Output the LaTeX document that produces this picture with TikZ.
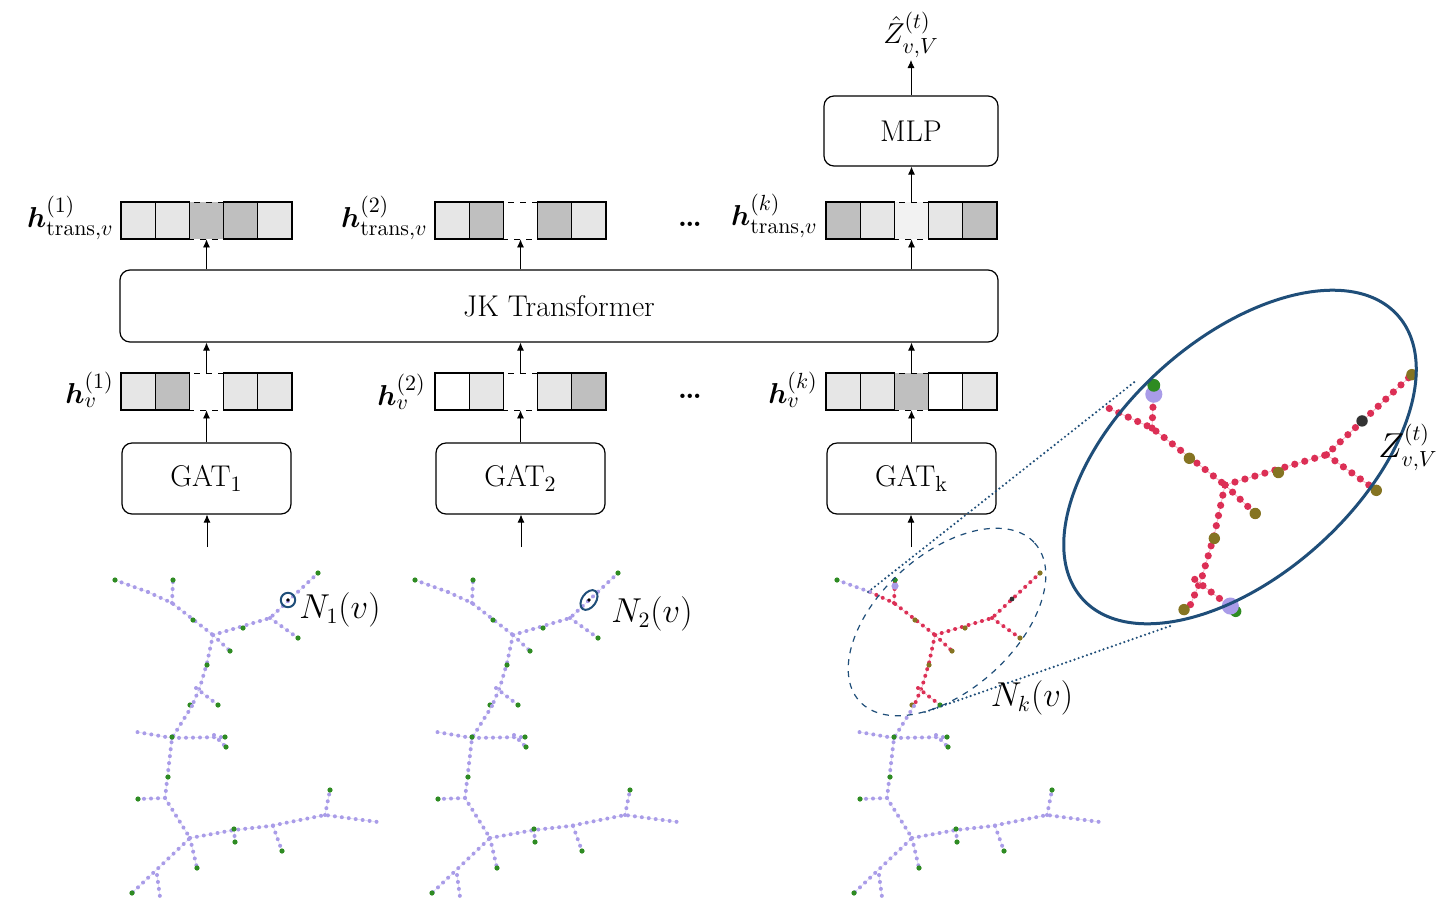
\documentclass[tikz,border=0pt]{standalone}
\usepackage{amsmath,bm}
\usetikzlibrary{arrows.meta}
\definecolor{lg}{HTML}{E6E6E6}
\definecolor{mg}{HTML}{BFBFBF}
\definecolor{vl}{HTML}{F2F2F2}
\definecolor{lav}{HTML}{A99CE8}
\definecolor{gr}{HTML}{2E8B22}
\definecolor{rd}{HTML}{DC2F55}
\definecolor{ol}{HTML}{857422}
\definecolor{bl}{HTML}{1F4E79}
\tikzset{
 box/.style={draw,rounded corners=5pt,line width=0.6pt,font=\fontsize{15}{18}\selectfont},
 cell/.style={minimum width=17.1pt,minimum height=18.5pt,inner sep=0pt},
 arr/.style={-{Latex[length=4pt,width=3.5pt]},line width=0.4pt},
 lbl/.style={font=\fontsize{15}{18}\selectfont,inner sep=1pt},
 lavl/.style={draw=lav,line width=2pt,dash pattern=on 0pt off 3.5pt,line cap=round,preaction={draw=lav!35,line width=0.3pt,dash pattern=}},
 redl/.style={draw=rd,line width=2pt,dash pattern=on 0pt off 3.5pt,line cap=round,preaction={draw=rd!35,line width=0.3pt,dash pattern=}},
 redL/.style={draw=rd,line width=3.6pt,dash pattern=on 0pt off 5.2pt,line cap=round,preaction={draw=rd!35,line width=0.4pt,dash pattern=}},
 zoomline/.style={draw=bl,line width=1.2pt,dash pattern=on 0pt off 2.2pt,line cap=round},
}
\newcommand\vrow[8]{%
 \node[cell,fill=#4] (#1-1) at (#2+17.1,#3+18.5) {};
 \node[cell,fill=#5] (#1-2) at (#2+51.3,#3+18.5) {};
 \node[cell,fill=#6] (#1-3) at (#2+85.5,#3+18.5) {};
 \node[cell,fill=#7] (#1-4) at (#2+119.7,#3+18.5) {};
 \node[cell,fill=#8] (#1-5) at (#2+153.9,#3+18.5) {};
 \draw[line width=0.6pt] (#2,#3) rectangle ++(68.4,37);
 \draw[line width=0.6pt] (#2+34.2,#3) -- ++(0,37);
 \draw[line width=0.6pt] (#2+102.6,#3) rectangle ++(68.4,37);
 \draw[line width=0.6pt] (#2+136.8,#3) -- ++(0,37);
 \draw[dashed,line width=0.5pt] (#2+68.4,#3) rectangle ++(34.2,37);
}
\newcommand\gtop[3]{%
 \draw[#1] (148,592)--(172,603)--(213,635);
 \draw[#1] (172,603)--(173,580);
 \draw[#1] (213,635)--(230,651);
 \draw[#1] (213,635)--(270,618)--(318,573);
 \draw[#1] (270,618)--(298,638);
 \draw[#1] (213,635)--(207,663)--(200,687)--(192,706);
 \draw[#1] (196,688)--(218,705);
 \foreach \p in {(230,651),(318,573),(298,638),(193,620),(243,628),(207,665),(190,705)} \fill[#2] \p circle (#3);
 \fill[gr] (173,580) circle (#3);
}
\newcommand\gbot{%
 \draw[lavl] (115,580)--(148,592);
 \draw[lavl] (192,706)--(172,738)--(165,798)--(190,838)--(132,893);
 \draw[lavl] (172,738)--(137,732);
 \draw[lavl] (172,738)--(225,737);
 \draw[lavl] (214,735)--(226,747);
 \draw[lavl] (165,798)--(138,799);
 \draw[lavl] (190,838)--(197,868);
 \draw[lavl] (190,838)--(234,830)--(270,826)--(325,815)--(378,822);
 \draw[lavl] (325,815)--(330,790);
 \draw[lavl] (234,829)--(235,842);
 \draw[lavl] (273,826)--(282,851);
 \draw[lavl] (157,875)--(160,897);
 \foreach \p in {(115,580),(218,705),(225,737),(226,747),(138,799),(197,868),(132,893),(330,790),(234,829),(235,842),(282,851),(168,777),(172,737)} \fill[gr] \p circle (1.3pt);
}
\begin{document}
\begin{tikzpicture}[x=0.5pt,y=-0.5pt]
\useasboundingbox[fill=white] (0,0) rectangle (1440,911);
% boxes
\node[box,minimum width=84.5pt,minimum height=35.5pt] (g1) at (206.5,478.5) {GAT$_1$};
\node[box,minimum width=84.5pt,minimum height=35.5pt] (g2) at (520.5,478.5) {GAT$_2$};
\node[box,minimum width=84.5pt,minimum height=35.5pt] (gk) at (911.5,478.5) {GAT$_\mathrm{k}$};
\node[box,minimum width=439pt,minimum height=36pt] (jk) at (559,306) {JK Transformer};
\node[box,minimum width=87pt,minimum height=35pt] (mlp) at (911,131) {MLP};
% vectors
\vrow{a}{121}{373}{lg}{mg}{white}{lg}{lg}
\vrow{b}{435}{373}{white}{lg}{white}{lg}{mg}
\vrow{c}{826}{373}{lg}{lg}{mg}{white}{lg}
\vrow{ta}{121}{202}{lg}{lg}{mg}{mg}{lg}
\vrow{tb}{435}{202}{lg}{mg}{white}{mg}{lg}
\vrow{tc}{826}{202}{mg}{lg}{vl}{lg}{mg}
% labels
\node[lbl,anchor=east] (la) at (116,390) {$\bm{h}_v^{(1)}$};
\node[lbl,anchor=east] (lb) at (428,392) {$\bm{h}_v^{(2)}$};
\node[lbl,anchor=east] (lc) at (820,390) {$\bm{h}_v^{(k)}$};
\node[lbl,anchor=east] (lta) at (116,218) {$\bm{h}_{\mathrm{trans},v}^{(1)}$};
\node[lbl,anchor=east] (ltb) at (430,218) {$\bm{h}_{\mathrm{trans},v}^{(2)}$};
\node[lbl,anchor=east] (ltc) at (820,216) {$\bm{h}_{\mathrm{trans},v}^{(k)}$};
\node[lbl] (d1) at (690,224) {\textbf{\dots}};
\node[lbl] (d2) at (690,396) {\textbf{\dots}};
\node[lbl,anchor=south] (zh) at (911,60) {$\hat{Z}_{v,V}^{(t)}$};
% arrows
\coordinate (i1) at (207,547); \coordinate (i2) at (521,547); \coordinate (ik) at (911,547);
\draw[arr] (i1) -- (i1 |- g1.south);
\draw[arr] (i2) -- (i2 |- g2.south);
\draw[arr] (ik) -- (ik |- gk.south);
\draw[arr] (g1.north -| a-3.south) -- (a-3.south);
\draw[arr] (g2.north -| b-3.south) -- (b-3.south);
\draw[arr] (gk.north -| c-3.south) -- (c-3.south);
\draw[arr] (a-3.north) -- (a-3.north |- jk.south);
\draw[arr] (b-3.north) -- (b-3.north |- jk.south);
\draw[arr] (c-3.north) -- (c-3.north |- jk.south);
\draw[arr] (jk.north -| ta-3.south) -- (ta-3.south);
\draw[arr] (jk.north -| tb-3.south) -- (tb-3.south);
\draw[arr] (jk.north -| tc-3.south) -- (tc-3.south);
\draw[arr] (tc-3.north) -- (tc-3.north |- mlp.south);
\draw[arr] (mlp.north) -- (zh.south);
% graphs
\gtop{lavl}{gr}{1.3pt}\gbot
\begin{scope}[shift={(300,0)}]\gtop{lavl}{gr}{1.3pt}\gbot\end{scope}
\begin{scope}[shift={(722,0)}]\gtop{redl}{ol}{1.3pt}\gbot
 \fill[lav] (173,586) circle (1.8pt); \fill[gr] (173,580) circle (1.3pt);
 \fill[black!80] (290,599) circle (1.2pt);
\end{scope}
\begin{scope}[shift={(1225,485)},scale=1.78,shift={(-213,-635)}]
 \gtop{redL}{ol}{1.6pt}
 \fill[black!80] (290,599) circle (1.6pt);
 \fill[lav] (173,584) circle (2.4pt); \fill[gr] (173,579) circle (1.8pt);
 \fill[gr] (219,706) circle (1.6pt); \fill[lav] (216,703) circle (2.4pt);
\end{scope}
% markers
\draw[bl,line width=1pt] (288,600) circle (3.6pt); \fill (288,600) circle (0.9pt);
\draw[bl,line width=1pt,rotate around={55:(589,600)}] (589,600) ellipse [x radius=11,y radius=7]; \fill (589,600) circle (0.9pt);
% ellipses
\draw[bl,dashed,line width=0.6pt,rotate around={42:(947,622)}] (947,622) ellipse [x radius=118,y radius=68];
\draw[bl,line width=1.5pt,rotate around={42:(1240,457)}] (1240,457) ellipse [x radius=212,y radius=118];
\coordinate (s1) at (868,592); \coordinate (b1) at (1137,380);
\coordinate (s2) at (925,712); \coordinate (b2) at (1173,625);
\draw[zoomline] (s1) -- (b1);
\draw[zoomline] (s2) -- (b2);
\node[lbl,font=\fontsize{16}{19}\selectfont] (n1) at (340,610) {$N_1(v)$};
\node[lbl,font=\fontsize{16}{19}\selectfont] (n2) at (652,614) {$N_2(v)$};
\node[lbl,font=\fontsize{16}{19}\selectfont] (nk) at (1032,698) {$N_k(v)$};
\node[lbl,font=\fontsize{16}{19}\selectfont] (zz) at (1408,447) {$Z_{v,V}^{(t)}$};
\end{tikzpicture}
\end{document}
